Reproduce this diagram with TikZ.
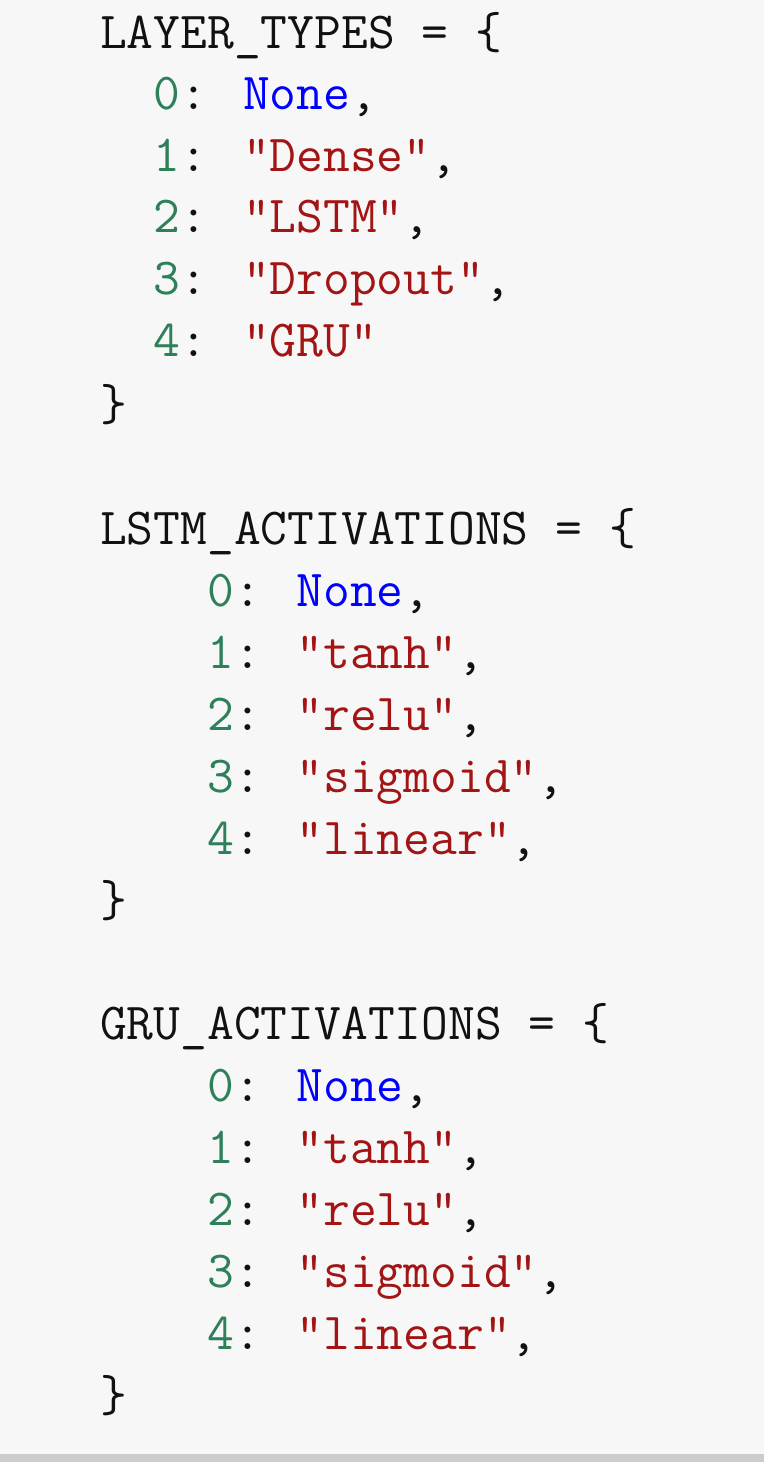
\documentclass[tikz,border=0pt]{standalone}
\usepackage{fontspec}
\definecolor{bg}{HTML}{F7F7F7}
\definecolor{num}{HTML}{2E8059}
\definecolor{kw}{HTML}{0000FF}
\definecolor{str}{HTML}{A31515}
\definecolor{txt}{HTML}{111111}
\tikzset{code/.style={anchor=base west,inner sep=0pt,font=\ttfamily\fontsize{52}{52}\selectfont,text=txt}}
\newcommand{\N}[1]{\textcolor{num}{#1}}
\newcommand{\K}[1]{\textcolor{kw}{#1}}
\newcommand{\St}[1]{\textcolor{str}{#1}}
\begin{document}
\begin{tikzpicture}[x=1pt,y=-1pt]
\fill[bg] (0,0) rectangle (764,1462);
\fill[gray!40] (0,1454) rectangle (764,1462);
\useasboundingbox (0,0) rectangle (764,1462);
\node[code] (a0) at (100,48) {LAYER\_TYPES = \{};
\node[code] (a1) at (100,109) {\phantom{00}\N{0}: \K{None},};
\node[code] (a2) at (100,171) {\phantom{00}\N{1}: \St{"Dense"},};
\node[code] (a3) at (100,232) {\phantom{00}\N{2}: \St{"LSTM"},};
\node[code] (a4) at (100,294) {\phantom{00}\N{3}: \St{"Dropout"},};
\node[code] (a5) at (100,356) {\phantom{00}\N{4}: \St{"GRU"}};
\node[code] (a6) at (100,420) {\}};
\node[code] (b0) at (100,544) {LSTM\_ACTIVATIONS = \{};
\node[code] (b1) at (100,606) {\phantom{0000}\N{0}: \K{None},};
\node[code] (b2) at (100,668) {\phantom{0000}\N{1}: \St{"tanh"},};
\node[code] (b3) at (100,730) {\phantom{0000}\N{2}: \St{"relu"},};
\node[code] (b4) at (100,792) {\phantom{0000}\N{3}: \St{"sigmoid"},};
\node[code] (b5) at (100,854) {\phantom{0000}\N{4}: \St{"linear"},};
\node[code] (b6) at (100,916) {\}};
\node[code] (c0) at (100,1039) {GRU\_ACTIVATIONS = \{};
\node[code] (c1) at (100,1101) {\phantom{0000}\N{0}: \K{None},};
\node[code] (c2) at (100,1163) {\phantom{0000}\N{1}: \St{"tanh"},};
\node[code] (c3) at (100,1225) {\phantom{0000}\N{2}: \St{"relu"},};
\node[code] (c4) at (100,1287) {\phantom{0000}\N{3}: \St{"sigmoid"},};
\node[code] (c5) at (100,1349) {\phantom{0000}\N{4}: \St{"linear"},};
\node[code] (c6) at (100,1411) {\}};
\end{tikzpicture}
\end{document}
